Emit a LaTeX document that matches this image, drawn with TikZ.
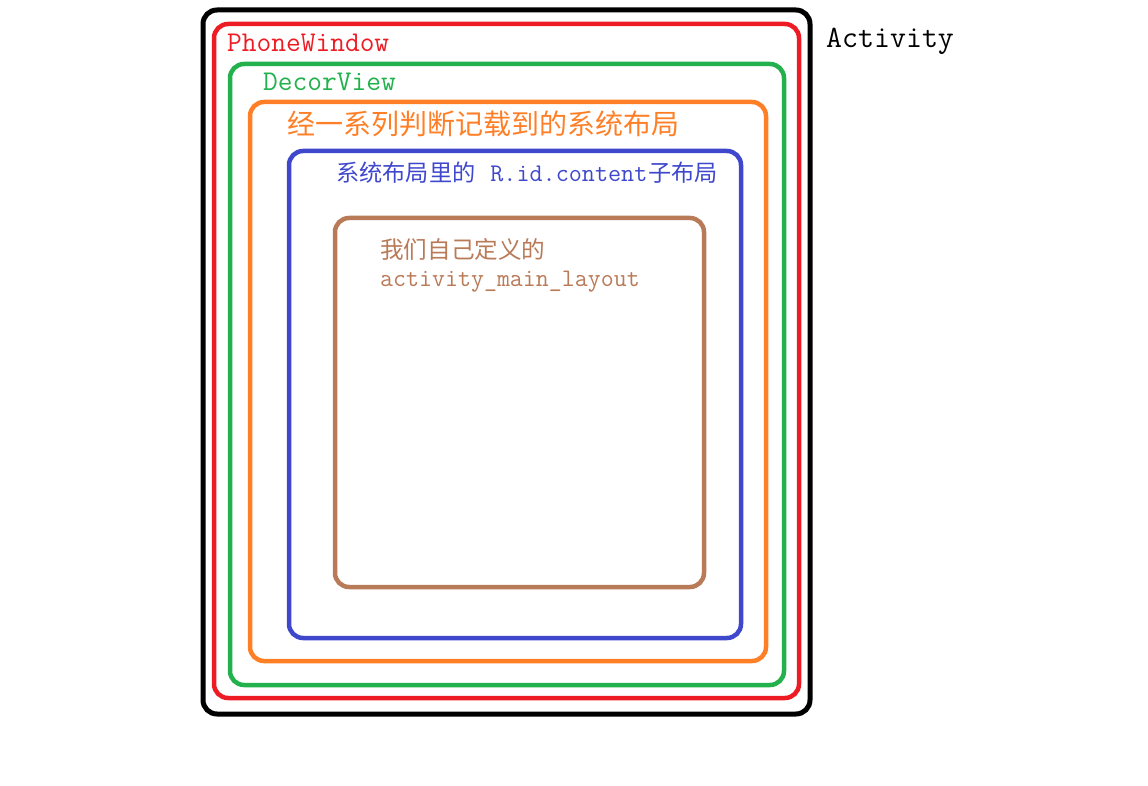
\documentclass[tikz,border=0pt]{standalone}
\usepackage{fontspec}
\newfontfamily\cjk{Noto Sans CJK SC}
\usepackage{tikz}
\definecolor{paintred}{RGB}{237,28,36}
\definecolor{paintgreen}{RGB}{34,177,76}
\definecolor{paintorange}{RGB}{255,127,39}
\definecolor{paintblue}{RGB}{63,72,204}
\definecolor{paintbrown}{RGB}{185,122,87}
\tikzstyle{layer} = [draw, line width=4.5pt, rounded corners=14pt]
\tikzstyle{label} = [inner sep=0pt, anchor=base west]
\tikzstyle{mono}  = [label, font=\ttfamily\fontsize{28.6}{30}\selectfont]

\begin{document}
\begin{tikzpicture}[x=1pt, y=-1pt]
    \useasboundingbox (0,0) rectangle (1148,786);
    % nested layers, outside in
    \draw[layer, black, line width=5pt] (203,10) rectangle (810,714);
    \draw[layer, paintred]    (214,24)  rectangle (799,698);
    \draw[layer, paintgreen]  (230,64)  rectangle (784,685);
    \draw[layer, paintorange] (250,102) rectangle (766,661);
    \draw[layer, paintblue]   (289,151) rectangle (741,638);
    \draw[layer, paintbrown]  (335,218) rectangle (704,587);
    % labels
    \node[mono, font=\ttfamily\fontsize{31}{32}\selectfont] (activity) at (826,48) {Activity};
    \node[mono, paintred] (phonewindow) at (227,52) {PhoneWindow};
    \node[mono, paintgreen] (decorview) at (263,91) {DecorView};
    \node[label, paintorange, font=\cjk\fontsize{28}{30}\selectfont] (system) at (287,135) {经一系列判断记载到的系统布局};
    \node[label, paintblue, font=\cjk\fontsize{23.2}{25}\selectfont] (content) at (336,182)
        {系统布局里的\hspace*{15pt}{\ttfamily\fontsize{25.4}{25}\selectfont R.id.content}\hspace*{1pt}子布局};
    \node[label, paintbrown, font=\cjk\fontsize{23.6}{25}\selectfont] (own) at (380,259) {我们自己定义的};
    \node[label, paintbrown, font=\ttfamily\fontsize{25.2}{25}\selectfont] (mainlayout) at (380,287) {activity\_main\_layout};
\end{tikzpicture}
\end{document}
